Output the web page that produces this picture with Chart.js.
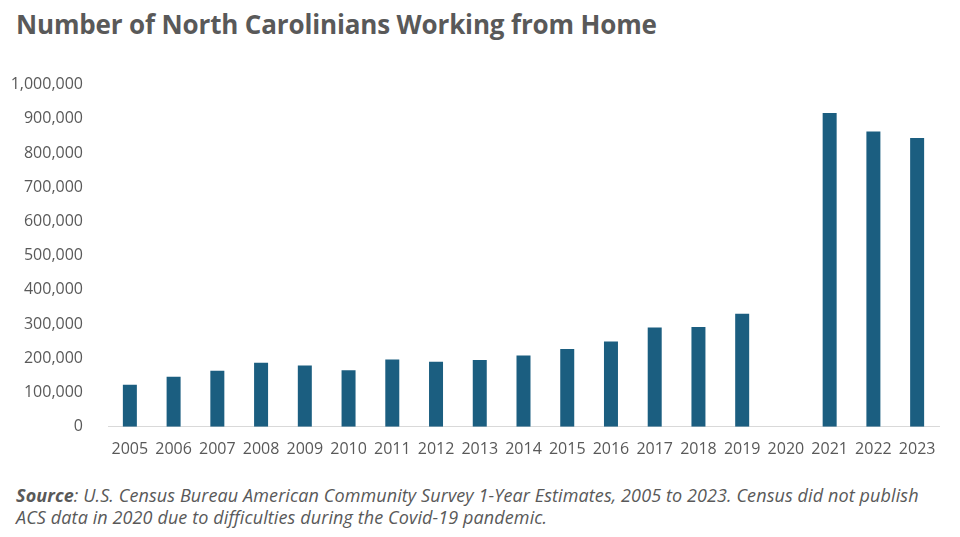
<!DOCTYPE html>
<html>
<head>
<meta charset="utf-8">
<script src="https://cdn.jsdelivr.net/npm/chart.js@4"></script>
<style>
    body { margin: 0; width: 960px; height: 537px; background: #fff; position: relative; overflow: hidden; font-family: "Open Sans", sans-serif; }
    #title { position: absolute; left: 16px; top: 6px; font-size: 26px; letter-spacing: -0.15px; font-weight: 700; color: #595959; white-space: nowrap; }
    #chart-box { position: absolute; left: 0; top: 58px; width: 960px; height: 406px; }
    #source { position: absolute; left: 16px; top: 484px; font-size: 18px; letter-spacing: 0.1px; font-style: italic; color: #595959; line-height: 22px; white-space: nowrap; }
</style>
</head>
<body>
<div id="title">Number of North Carolinians Working from Home</div>
<div id="chart-box"><canvas id="wfh-chart"></canvas></div>
<div id="source"><b>Source</b>: U.S. Census Bureau American Community Survey 1-Year Estimates, 2005 to 2023. Census did not publish<br>ACS data in 2020 due to difficulties during the Covid-19 pandemic.</div>
<script>
const years = ['2005', '2006', '2007', '2008', '2009', '2010', '2011', '2012', '2013', '2014',
    '2015', '2016', '2017', '2018', '2019', '2020', '2021', '2022', '2023'];
// 2020 has no ACS 1-year estimate
const workFromHome = [123000, 146000, 164000, 187000, 179000, 165000, 197000, 190000, 195000, 208000,
    227000, 249000, 290000, 292000, 330000, null, 917000, 863000, 844000];
const yTicks = [0, 100000, 200000, 300000, 400000, 500000, 600000, 700000, 800000, 900000, 1000000];

const ctx = document.getElementById('wfh-chart').getContext('2d');

const wfhChart = new Chart(ctx, {
    type: 'bar',
    data: {
        labels: years,
        datasets: [{
            label: 'Working from home',
            data: workFromHome,
            backgroundColor: '#1b5e80',
            barPercentage: 0.64,
            categoryPercentage: 0.5
        }]
    },
    options: {
        responsive: true,
        maintainAspectRatio: false,
        animation: false,
        layout: {
            padding: { left: 0, right: 21, top: 0, bottom: 0 }
        },
        plugins: {
            legend: { display: false },
            tooltip: { enabled: false }
        },
        scales: {
            x: {
                grid: { display: false },
                border: { display: true, color: '#d9d9d9', width: 1 },
                ticks: {
                    color: '#595959',
                    font: { family: 'Open Sans', size: 16 },
                    padding: 5,
                    maxRotation: 0,
                    autoSkip: false
                }
            },
            y: {
                min: 0,
                max: 1000000,
                grid: { display: false },
                border: { display: false },
                afterBuildTicks: function(scale) {
                    scale.ticks = yTicks.map(v => ({ value: v }));
                },
                afterFit: function(scale) {
                    scale.width = 108;
                },
                ticks: {
                    color: '#595959',
                    font: { family: 'Open Sans', size: 16 },
                    padding: 17,
                    callback: function(value) {
                        return value.toLocaleString('en-US');
                    }
                }
            }
        }
    }
});
</script>
</body>
</html>
